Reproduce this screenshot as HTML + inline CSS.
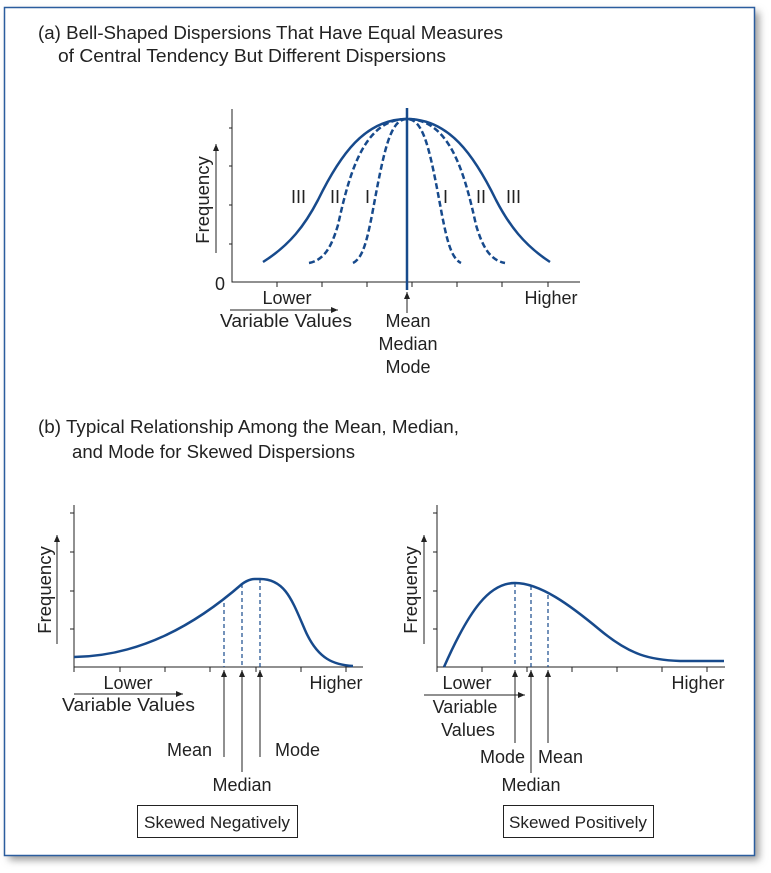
<!DOCTYPE html>
<html><head><meta charset="utf-8"><style>
html,body{margin:0;padding:0;background:#fff;}
svg{display:block;}
text{font-family:"Liberation Sans",Arial,sans-serif;fill:#222;}
</style></head><body>
<svg width="771" height="873" viewBox="0 0 771 873" xmlns="http://www.w3.org/2000/svg">
<defs>
<filter id="sh" x="-5%" y="-5%" width="110%" height="110%"><feGaussianBlur stdDeviation="4"/></filter>
<marker id="ah" markerWidth="8" markerHeight="8" refX="7" refY="4" orient="auto" markerUnits="userSpaceOnUse"><path d="M0,1 L7,4 L0,7 Z" fill="#222"/></marker>
</defs>
<rect x="9" y="12" width="750" height="848" fill="#999" filter="url(#sh)"/>
<rect x="4.5" y="7.5" width="750" height="848" fill="#fff" stroke="#2b5d9e" stroke-width="1.5"/>

<!-- Titles -->
<text x="38" y="39" font-size="18.5" textLength="465" lengthAdjust="spacingAndGlyphs">(a) Bell-Shaped Dispersions That Have Equal Measures</text>
<text x="58" y="62" font-size="18.5" textLength="388" lengthAdjust="spacingAndGlyphs">of Central Tendency But Different Dispersions</text>
<text x="38" y="433" font-size="18.5" textLength="421" lengthAdjust="spacingAndGlyphs">(b) Typical Relationship Among the Mean, Median,</text>
<text x="72" y="458" font-size="18.5" textLength="283" lengthAdjust="spacingAndGlyphs">and Mode for Skewed Dispersions</text>

<!-- Chart A -->
<g stroke="#222" stroke-width="1" fill="none">
<path d="M232,109 V282 H580"/>
<path d="M229,128H232M229,166H232M229,205H232M229,244H232"/>
<path d="M277,282v5M322,282v5M367,282v5M412,282v5M457,282v5M502,282v5M548,282v5"/>
<path d="M216,253 V144" marker-end="url(#ah)"/>
<path d="M230,310 H338" marker-end="url(#ah)"/>
<path d="M407,313 V292" marker-end="url(#ah)"/>
</g>
<line x1="407" y1="108" x2="407" y2="290" stroke="#174a8c" stroke-width="2.5"/>
<g font-size="18">
<text x="291" y="203">III</text><text x="330" y="203">II</text><text x="365" y="203">I</text>
<text x="443" y="203">I</text><text x="476" y="203">II</text><text x="506" y="203">III</text>
<text x="215" y="290">0</text>
<text x="0" y="0" transform="translate(209,200) rotate(-90)" text-anchor="middle" font-size="18.5">Frequency</text>
<text x="287" y="304" text-anchor="middle">Lower</text>
<text x="220" y="327" textLength="132" lengthAdjust="spacingAndGlyphs">Variable  Values</text>
<text x="551" y="304" text-anchor="middle">Higher</text>
<text x="408" y="327" text-anchor="middle">Mean</text>
<text x="408" y="350" text-anchor="middle">Median</text>
<text x="408" y="373" text-anchor="middle">Mode</text>
</g>

<!-- Chart B left -->
<g stroke="#222" stroke-width="1" fill="none">
<path d="M74,505 V667 H363"/>
<path d="M70,513H74M70,552H74M70,591H74M70,629H74"/>
<path d="M74,667v5M120,667v5M165,667v5M210,667v5M256,667v5M301,667v5M346,667v5"/>
<path d="M57,644 V535" marker-end="url(#ah)"/>
<path d="M74,694 H183" marker-end="url(#ah)"/>
<path d="M224,757 V670" marker-end="url(#ah)"/>
<path d="M242,772 V670" marker-end="url(#ah)"/>
<path d="M260,757 V670" marker-end="url(#ah)"/>
</g>
<path d="M74,657 C140,656 195,625 242,584 C250,578 255,579 260,579 C285,579 292,600 305,630 C318,660 335,665 353,666" fill="none" stroke="#174a8c" stroke-width="2.5"/>
<g stroke="#174a8c" stroke-width="1.2" stroke-dasharray="4,3">
<line x1="224" y1="603" x2="224" y2="667"/><line x1="242" y1="584" x2="242" y2="667"/><line x1="260" y1="579" x2="260" y2="667"/>
</g>
<g font-size="18">
<text x="0" y="0" transform="translate(51,590) rotate(-90)" text-anchor="middle" font-size="18.5">Frequency</text>
<text x="128" y="689" text-anchor="middle">Lower</text>
<text x="62" y="711" textLength="133" lengthAdjust="spacingAndGlyphs">Variable  Values</text>
<text x="336" y="689" text-anchor="middle">Higher</text>
<text x="212" y="756" text-anchor="end">Mean</text>
<text x="275" y="756">Mode</text>
<text x="242" y="791" text-anchor="middle">Median</text>
</g>
<rect x="137.5" y="805.5" width="160" height="32" fill="none" stroke="#222"/>
<text x="217" y="828" text-anchor="middle" font-size="17" textLength="146" lengthAdjust="spacingAndGlyphs" font-family="DejaVu Sans">Skewed Negatively</text>

<!-- Chart B right -->
<g stroke="#222" stroke-width="1" fill="none">
<path d="M437,505 V667 H725"/>
<path d="M433,513H437M433,552H437M433,591H437M433,629H437"/>
<path d="M437,667v5M482,667v5M527,667v5M572,667v5M617,667v5M662,667v5M707,667v5"/>
<path d="M424,644 V535" marker-end="url(#ah)"/>
<path d="M424,695 H525" marker-end="url(#ah)"/>
<path d="M515,743 V670" marker-end="url(#ah)"/>
<path d="M531,773 V670" marker-end="url(#ah)"/>
<path d="M548,743 V670" marker-end="url(#ah)"/>
</g>
<path d="M444,667 C470,608 490,583 515,583 C540,583 570,605 600,630 C630,655 650,660 680,661 L724,661" fill="none" stroke="#174a8c" stroke-width="2.5"/>
<g stroke="#174a8c" stroke-width="1.2" stroke-dasharray="4,3">
<line x1="515" y1="583" x2="515" y2="667"/><line x1="531" y1="586" x2="531" y2="667"/><line x1="548" y1="595" x2="548" y2="667"/>
</g>
<g font-size="18">
<text x="0" y="0" transform="translate(417,590) rotate(-90)" text-anchor="middle" font-size="18.5">Frequency</text>
<text x="467" y="689" text-anchor="middle">Lower</text>
<text x="465" y="713" text-anchor="middle">Variable</text>
<text x="468" y="736" text-anchor="middle">Values</text>
<text x="698" y="689" text-anchor="middle">Higher</text>
<text x="525" y="763" text-anchor="end">Mode</text>
<text x="538" y="763">Mean</text>
<text x="531" y="791" text-anchor="middle">Median</text>
</g>
<rect x="503.5" y="805.5" width="150" height="32" fill="none" stroke="#222"/>
<text x="578" y="828" text-anchor="middle" font-size="17" textLength="138" lengthAdjust="spacingAndGlyphs" font-family="DejaVu Sans">Skewed Positively</text>

<!-- bell curves -->
<path d="M263,262 C290,245 305,225 318,200 C340,155 365,119 407,119 C449,119 474,155 496,200 C509,225 524,245 550,262" fill="none" stroke="#174a8c" stroke-width="2.5"/>
<path d="M309,263 C325,260 332,245 338,225 C350,170 365,119 407,119 C449,119 464,170 476,225 C482,245 489,260 505,263" fill="none" stroke="#174a8c" stroke-width="2.5" stroke-dasharray="6,3"/>
<path d="M353,263 C363,258 367,240 372,215 C384,150 390,119 407,119 C424,119 430,150 442,215 C447,240 451,258 461,263" fill="none" stroke="#174a8c" stroke-width="2.5" stroke-dasharray="6,3"/>
</svg>
</body></html>
